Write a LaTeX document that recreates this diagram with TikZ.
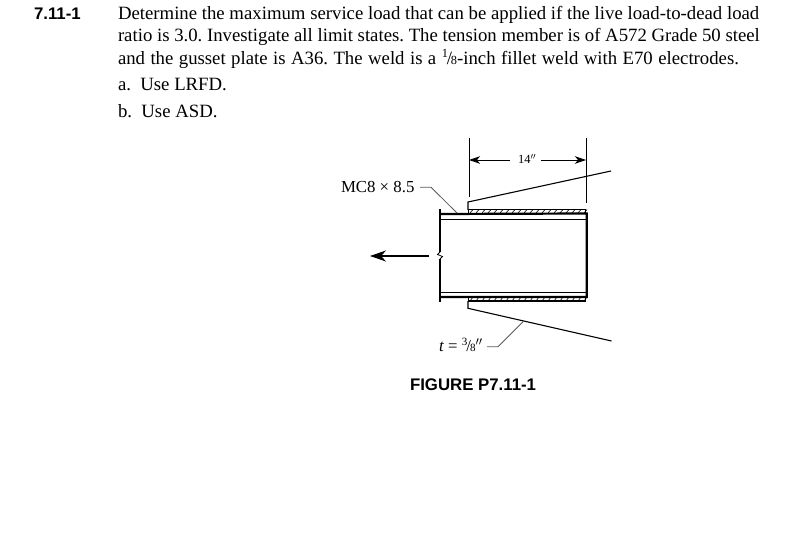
\documentclass[tikz,border=0pt]{standalone}
\usepackage{fontspec}
\setmainfont{Liberation Serif}
\newfontfamily\headfont{Liberation Sans}
\usetikzlibrary{arrows.meta}
\frenchspacing
\newcommand{\tinyfrac}[2]{\raisebox{.36em}{\fontsize{.66em}{.66em}\selectfont #1}\kern-.06em/\kern-.06em{\fontsize{.66em}{.66em}\selectfont #2}}
\tikzset{
  x=1pt,y=-1pt,
  body/.style={anchor=base west,inner sep=0pt,outer sep=0pt,font=\fontsize{18.76}{18.76}\selectfont},
  head/.style={anchor=base west,inner sep=0pt,outer sep=0pt,font=\headfont\bfseries\fontsize{16.8}{16.8}\selectfont},
  label/.style={anchor=base west,inner sep=0pt,outer sep=0pt,font=\fontsize{16.8}{16.8}\selectfont},
  dimtext/.style={anchor=base west,inner sep=0pt,outer sep=0pt,font=\fontsize{12.5}{12.5}\selectfont},
  edge/.style={line width=1.1pt,black},
  heavy/.style={line width=2.2pt,black},
  thin edge/.style={line width=.9pt,black},
  leader/.style={line width=.8pt,black!65},
  dimarrow/.style={line width=.9pt,-{Stealth[length=11pt,width=7.5pt,inset=3pt]}},
}
\begin{document}
\begin{tikzpicture}
\useasboundingbox (0,0) rectangle (789,548);
% text
\node[head] (num) at (34,19.5) {7.11-1};
\node[body] (l1) at (118,19.5) {Determine the maximum service load that can be applied if the live load-to-dead load};
\node[body] (l2) at (118,41.5) {ratio is 3.0. Investigate all limit states. The tension member is of A572 Grade 50 steel};
\node[body] (l3) at (118,64.5) {\spaceskip=.29em and the gusset plate is A36. The weld is a \tinyfrac{1}{8}-inch fillet weld with E70 electrodes.};
\node[body] (a) at (118,91) {a.\ \ Use LRFD.};
\node[body] (b) at (118,118) {b.\ \ Use ASD.};
\node[label] (mc) at (341,193) {MC8 × 8.5};
\node[dimtext] (dim) at (518,164) {14\textit{$''$}};
\node[label] (t) at (439,351.5) {\textit{t} = \tinyfrac{3}{8}\textit{$''$}};
\node[head] (fig) at (410,390) {FIGURE P7.11-1};
% coordinates
\coordinate (tl) at (440,209);
\coordinate (brk1) at (440,252);
\coordinate (brk2) at (440,259);
\coordinate (bl) at (440,302);
\coordinate (tr) at (586.7,213.5);
\coordinate (br) at (586.7,297);
% member
\draw[edge] (tl) -- (brk1);
\draw[line width=.8pt] (brk1) -- (437.5,254.5) -- (442.5,256.5) -- (brk2);
\draw[edge] (brk2) -- (bl);
\draw[heavy] (440,214) -- (tr) -- (br) -- (440,297);
\draw[thin edge] (440,219) -- (586,219);
\draw[thin edge] (440,292) -- (586,292);
% welds
\foreach \ya/\yb in {209.5/213, 297/301}{
  \draw[thin edge] (468,\ya) rectangle (585.5,\yb);
  \foreach \xx in {470,476,...,584}
    \draw[line width=.6pt] (\xx,\yb) -- (\xx+3,\ya);
}
\draw[line width=1.5pt] (468,209.5) -- (585.5,209.5);
\draw[line width=1.5pt] (468,301) -- (585.5,301);
% gusset
\draw[edge] (468,210) -- (468,202) -- (611,171);
\draw[edge] (468,301) -- (468,308.3) -- (611.5,341);
% dimension
\coordinate (d1t) at (469,138);
\coordinate (d1b) at (469,197);
\coordinate (d2t) at (586,138);
\coordinate (d2b) at (586,203);
\draw[thin edge] (d1t) -- (d1b);
\draw[thin edge] (d2t) -- (d2b);
\coordinate (da) at (469,160);
\coordinate (db) at (586,160);
\draw[dimarrow] (510,160) -- (da);
\draw[dimarrow] (541,160) -- (db);
% load arrow
\coordinate (ls) at (429,256);
\coordinate (le) at (370,256);
\draw[line width=1.1pt,-{Stealth[length=16pt,width=11pt,inset=5pt]}] (ls) -- (le);
% leaders
\draw[leader] (420,187.3) -- (431,187.3) -- (457,213);
\draw[leader] (487,346.7) -- (498,346.7) -- (524,320.7);
\end{tikzpicture}
\end{document}
